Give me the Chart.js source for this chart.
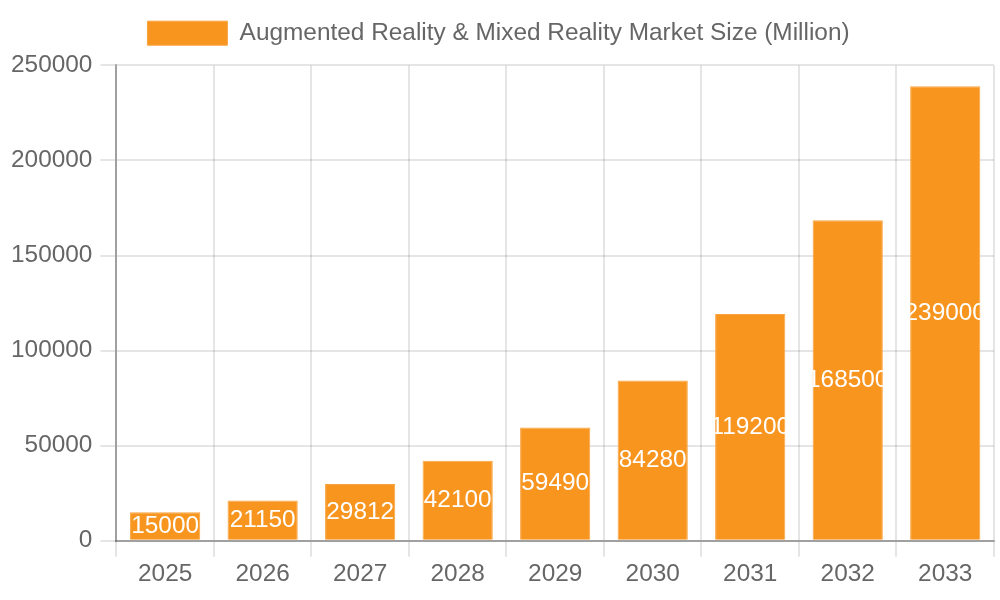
<!DOCTYPE html>
<html>
<head>
<meta charset="utf-8">
<script src="https://cdn.jsdelivr.net/npm/chart.js@4.4.1/dist/chart.umd.min.js"></script>
<style>
  html, body { margin: 0; padding: 0; background: #fff; overflow: hidden; }
  #wrap { width: 1000px; height: 600px; }
</style>
</head>
<body>
<div id="wrap"><canvas id="marketChart" width="1000" height="600"></canvas></div>
<script>
const years = ["2025", "2026", "2027", "2028", "2029", "2030", "2031", "2032", "2033"];
const marketSize = [15000, 21150, 29812, 42100, 59490, 84280, 119200, 168500, 239000];
const seriesLabel = "Augmented Reality & Mixed Reality Market Size (Million)";

Chart.defaults.font.family = "'Liberation Sans', Arial, sans-serif";
Chart.defaults.font.size = 24.4;
Chart.defaults.color = '#666';

// a bit more room between the legend and the plot
const legendGap = {
    id: 'legendGap',
    beforeInit(chart) {
        const origFit = chart.legend.fit;
        chart.legend.fit = function () {
            origFit.bind(chart.legend)();
            this.height += 10;
        };
    }
};

// value text in the middle of each bar, cut off at the bar edges
const barLabels = {
    id: 'barLabels',
    afterDatasetsDraw(chart) {
        let ctx = chart.ctx;
        let meta = chart.getDatasetMeta(0);
        meta.data.forEach((bar, i) => {
            let p = bar.getProps(['x', 'y', 'base', 'width'], true);
            let left = p.x - p.width / 2;
            ctx.save();
            ctx.beginPath();
            ctx.rect(left, p.y, p.width, p.base - p.y);
            ctx.clip();
            ctx.fillStyle = '#fff';
            ctx.font = "24.4px 'Liberation Sans', Arial, sans-serif";
            ctx.textAlign = 'center';
            ctx.textBaseline = 'middle';
            ctx.fillText(String(marketSize[i]), p.x, (p.y + p.base) / 2);
            ctx.restore();
        });
    }
};

const ctx = document.getElementById('marketChart').getContext('2d');
new Chart(ctx, {
    type: 'bar',
    data: {
        labels: years,
        datasets: [{
            label: seriesLabel,
            data: marketSize,
            backgroundColor: '#F7951F',
            borderColor: '#F9A440',
            borderWidth: 1
        }]
    },
    options: {
        responsive: false,
        animation: false,
        devicePixelRatio: 1,
        layout: { padding: { left: 3, right: 6, top: 1, bottom: 8 } },
        plugins: {
            legend: {
                position: 'top',
                labels: { boxWidth: 80, boxHeight: 24, padding: 20 }
            },
            tooltip: { enabled: false }
        },
        scales: {
            x: {
                grid: { color: 'rgba(0,0,0,0.1)', lineWidth: 2, tickLength: 16 },
                border: { color: 'rgba(0,0,0,0.3)', width: 2 },
                ticks: { padding: 3 }
            },
            y: {
                min: 0,
                max: 250000,
                ticks: {
                    stepSize: 50000,
                    padding: 8,
                    callback: (value) => String(value)
                },
                grid: { color: 'rgba(0,0,0,0.1)', lineWidth: 2, tickLength: 16 },
                border: { color: 'rgba(0,0,0,0.3)', width: 2 }
            }
        }
    },
    plugins: [legendGap, barLabels]
});
</script>
</body>
</html>
